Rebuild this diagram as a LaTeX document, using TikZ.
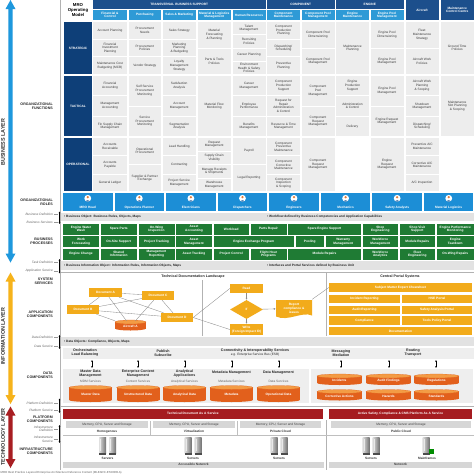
\documentclass[tikz,border=0pt]{standalone}
\usepackage{fontspec}
\setmainfont{Liberation Sans}
\usetikzlibrary{shapes.geometric,arrows.meta,calc}
\definecolor{hdrblue}{HTML}{1C4F8C}
\definecolor{subblue}{HTML}{2E9AD6}
\definecolor{navy}{HTML}{0E3F78}
\definecolor{roleblue}{HTML}{1C8ED6}
\definecolor{cellgray}{HTML}{EDEDED}
\definecolor{txtgray}{HTML}{3A3A3A}
\definecolor{bizgreen}{HTML}{1F7B34}
\definecolor{appor}{HTML}{F2AB1B}
\definecolor{cylor}{HTML}{E2601C}
\definecolor{cyltop}{HTML}{F39C45}
\definecolor{techred}{HTML}{A51C20}
\definecolor{bandgray}{HTML}{E2E2E2}
\definecolor{panelgray}{HTML}{EEEEEE}
\definecolor{arrblue}{HTML}{1E98DD}
\definecolor{arryel}{HTML}{F6B31B}
\definecolor{arrred}{HTML}{A81E22}
\definecolor{headc}{HTML}{E07B39}
\definecolor{bodyc}{HTML}{3A6EA5}
\newcommand\fc{\fontsize{3.2}{3.6}\selectfont}
\newcommand\fh{\fontsize{3.6}{4.0}\selectfont}
\newcommand\fl{\fontsize{5.4}{6}\selectfont}
\newcommand\cb[7]{\pgfmathsetmacro\cbw{#5-#3}\pgfmathsetmacro\cbh{#6-#4}\node[#1,minimum width=\cbw pt,minimum height=\cbh pt] (#2) at ({(#3+#5)/2},{(#4+#6)/2}) {#7};}
\newcommand\cyl[6]{\pgfmathsetmacro\cyr{#5/2}\pgfmathsetmacro\cyh{#4-#3}%
 \fill[cylor] (#2-\cyr,#3+2) rectangle (#2+\cyr,#4-2);
 \fill[cylor] (#2,#4-2) ellipse [x radius=\cyr pt, y radius=2pt];
 \fill[cyltop,draw=cylor,line width=0.2pt] (#2,#3+2) ellipse [x radius=\cyr pt, y radius=2pt];
 \node[font=\fc\bfseries,text=white,minimum width=#5pt,minimum height=\cyh pt] (#1) at (#2,{(#3+#4)/2+1}) {#6};}
\newcommand\tower[1]{\shade[left color=black!12,right color=black!55] (#1-3.5,437) rectangle (#1+3.5,453);
 \fill[black!70] (#1-3.5,453) rectangle (#1+3.5,455);
 \fill[white,opacity=0.6] (#1-2.3,439) rectangle (#1-1.3,451);}
\tikzset{
 cell/.style={fill=cellgray,text=txtgray,font=\fc,align=center,inner sep=0pt},
 hdr/.style={fill=hdrblue,text=white,font=\fc\bfseries,align=center,inner sep=0pt},
 subh/.style={fill=subblue,text=white,font=\fc\bfseries,align=center,inner sep=0pt},
 lvl/.style={fill=navy,text=white,font=\fc\bfseries,align=center,inner sep=0pt},
 rolebox/.style={fill=roleblue,inner sep=0pt},
 proc/.style={fill=bizgreen,text=white,font=\fc\bfseries,align=center,inner sep=0pt},
 app/.style={fill=appor,text=white,font=\fc\bfseries,align=center,inner sep=0pt},
 plat/.style={fill=techred,text=white,font=\fc\bfseries,align=center,inner sep=0pt},
 graybar/.style={fill=black!16,text=black!75,font=\fc,align=center,inner sep=0pt},
 lab/.style={font=\fh\bfseries,align=right,anchor=east,text=black!85,inner sep=0pt},
 sublab/.style={font=\fc\itshape,align=right,anchor=east,text=black!60,inner sep=0pt},
 bandtxt/.style={font=\fc\bfseries,anchor=west,text=black!85,inner sep=0pt},
 docline/.style={draw=black!45,line width=0.35pt},
 flowarr/.style={draw=black!45,line width=0.4pt,-{Latex[length=2pt,width=2pt]}},
 dbl/.style={draw=black,line width=0.6pt,{Latex[length=1.6pt,width=1.8pt]}-{Latex[length=1.6pt,width=1.8pt]}},
 dhead/.style={font=\fh\bfseries,align=center,text=black!85,inner sep=0pt},
 dserv/.style={font=\fc,align=center,text=black!60,inner sep=0pt},
 tiny/.style={font=\fc\bfseries,text=black!80,inner sep=0pt}
}
\begin{document}
\begin{tikzpicture}[x=1pt,y=-1pt]
\useasboundingbox (0,0) rectangle (474,475);
\fill[white] (0,0) rectangle (474,475);
% ---------- layer arrows ----------
\fill[arrblue] (10.5,0) -- (15.5,9) -- (12.7,9) -- (12.7,253.5) -- (15.5,253.5) -- (10.5,262.5) -- (5.5,253.5) -- (8.3,253.5) -- (8.3,9) -- (5.5,9) -- cycle;
\fill[arryel] (10.5,272.5) -- (15.5,281.5) -- (12.7,281.5) -- (12.7,395) -- (15.5,395) -- (10.5,404) -- (5.5,395) -- (8.3,395) -- (8.3,281.5) -- (5.5,281.5) -- cycle;
\fill[arrred] (10.5,406.5) -- (15.5,415.5) -- (12.7,415.5) -- (12.7,459) -- (15.5,459) -- (10.5,468) -- (5.5,459) -- (8.3,459) -- (8.3,415.5) -- (5.5,415.5) -- cycle;
\node[rotate=90,font=\fl\bfseries,text=black!80,inner sep=0pt] (lbiz) at (3,142) {BUSINESS LAYER};
\node[rotate=90,font=\fl\bfseries,text=black!80,inner sep=0pt] (linf) at (3,336) {INFORMATION LAYER};
\node[rotate=90,font=\fl\bfseries,text=black!80,inner sep=0pt] (ltec) at (3,437) {TECHNOLOGY LAYER};
% frame line
\draw[black!30,line width=0.3pt] (60.5,0) -- (60.5,470);
% ---------- left labels ----------
\node[lab] (lof) at (53,106) {ORGANIZATIONAL\\FUNCTIONS};
\node[lab] (lor) at (53,202) {ORGANIZATIONAL\\ROLES};
\node[sublab] (lbd) at (53,214.5) {Business Definition};
\node[sublab] (lbs) at (53,222.5) {Business Services};
\node[lab] (lbp) at (53,241.5) {BUSINESS\\PROCESSES};
\node[sublab] (ltd) at (53,262) {Task Definition};
\node[sublab] (las) at (53,271) {Application Service};
\node[lab] (lss) at (53,281.5) {SYSTEM\\SERVICES};
\node[lab] (lac) at (53,314.5) {APPLICATION\\COMPONENTS};
\node[sublab] (ldd) at (53,337.5) {Data Definition};
\node[sublab] (lds) at (53,346.5) {Data Service};
\node[lab] (ldc) at (53,375.5) {DATA\\COMPONENTS};
\node[sublab] (lpd) at (53,403) {Platform Definition};
\node[sublab] (lps) at (53,410.5) {Platform Service};
\node[lab] (lpc) at (53,419.5) {PLATFORM\\COMPONENTS};
\node[sublab] (lid) at (53,429) {Infrastructure\\Definition};
\node[sublab] (lis) at (53,439.5) {Infrastructure\\Service};
\node[lab] (lic) at (53,451.5) {INFRASTRUCTURE\\COMPONENTS};
\foreach \yy in {214.5,222.5,262,271,337.5,346.5,403,410.5,429,439.5} {\draw[black!40,line width=0.3pt] (54,\yy) -- (58,\yy);}
\coordinate (a1t) at (59.5,211.5); \coordinate (a1b) at (59.5,224);
\coordinate (a2t) at (59.5,259); \coordinate (a2b) at (59.5,273.5);
\coordinate (a3t) at (59.5,335); \coordinate (a3b) at (59.5,349);
\coordinate (a4t) at (59.5,398.5); \coordinate (a4b) at (59.5,413);
\coordinate (a5t) at (59.5,425); \coordinate (a5b) at (59.5,443);
\draw[dbl] (a1t) -- (a1b); \draw[dbl] (a2t) -- (a2b); \draw[dbl] (a3t) -- (a3b); \draw[dbl] (a4t) -- (a4b); \draw[dbl] (a5t) -- (a5b);
% ---------- header ----------
\node[font=\fontsize{4.3}{4.7}\selectfont\bfseries,align=center,inner sep=0pt] (mro) at (78,10) {MRO\\Operating\\Model};
\cb{hdr}{tbs}{93}{0}{265.5}{9}{TRANSVERSAL BUSINESS SUPPORT}
\cb{hdr}{cmph}{267}{0}{334.5}{9}{COMPONENT}
\cb{hdr}{engh}{336}{0}{403.5}{9}{ENGINE}
\cb{hdr}{acft}{405.5}{0}{438.5}{20}{Aircraft}
\cb{hdr}{mcc}{440.5}{0}{474}{20}{Maintenance\\Control Centre}
\cb{subh}{h1}{93}{10}{127}{20}{Financial \&\\Control}
\cb{subh}{h2}{128.5}{10}{161}{20}{Purchasing}
\cb{subh}{h3}{162.5}{10}{196}{20}{Sales \& Marketing}
\cb{subh}{h4}{197.5}{10}{231}{20}{Material \& Logistics\\Management}
\cb{subh}{h5}{232.5}{10}{265.5}{20}{Human Resources}
\cb{subh}{h6}{267}{10}{300}{20}{Component\\Maintenance}
\cb{subh}{h7}{301.5}{10}{334.5}{20}{Component Pool\\Management}
\cb{subh}{h8}{336}{10}{369}{20}{Engine\\Maintenance}
\cb{subh}{h9}{370.5}{10}{403.5}{20}{Engine Pool\\Management}
% levels
\cb{lvl}{strat}{64}{22}{92}{74}{STRATEGIC}
\cb{lvl}{tact}{64}{76}{92}{136}{TACTICAL}
\cb{lvl}{oper}{64}{138}{92}{191}{OPERATIONAL}
% column 1
\cb{cell}{c1a}{93}{22}{127}{38.7}{Account Planning}
\cb{cell}{c1b}{93}{39.7}{127}{56.3}{Financial\\Investment\\Planning}
\cb{cell}{c1c}{93}{57.3}{127}{74}{Maintenance Cost\\Budgeting (MCB)}
\cb{cell}{c1d}{93}{76}{127}{95.3}{Financial\\Accounting}
\cb{cell}{c1e}{93}{96.3}{127}{115.7}{Management\\Accounting}
\cb{cell}{c1f}{93}{116.7}{127}{136}{Fin Supply Chain\\Management}
\cb{cell}{c1g}{93}{138}{127}{155.3}{Accounts\\Receivable}
\cb{cell}{c1h}{93}{156.3}{127}{173.7}{Accounts\\Payable}
\cb{cell}{c1i}{93}{174.7}{127}{191}{General Ledger}
% column 2
\cb{cell}{c2a}{128.5}{22}{161}{38.7}{Procurement\\Needs}
\cb{cell}{c2b}{128.5}{39.7}{161}{56.3}{Procurement\\Policies}
\cb{cell}{c2c}{128.5}{57.3}{161}{74}{Vendor Strategy}
\cb{cell}{c2d}{128.5}{76}{161}{105.5}{Self Service\\Procurement\\Monitoring}
\cb{cell}{c2e}{128.5}{106.5}{161}{136}{Service\\Procurement\\Monitoring}
\cb{cell}{c2f}{128.5}{138}{161}{164}{Operational\\Procurement}
\cb{cell}{c2g}{128.5}{165}{161}{191}{Supplier \& Partner\\Exchange}
% column 3
\cb{cell}{c3a}{162.5}{22}{196}{38.7}{Sales Strategy}
\cb{cell}{c3b}{162.5}{39.7}{196}{56.3}{Marketing\\Planning\\\& Budgeting}
\cb{cell}{c3c}{162.5}{57.3}{196}{74}{Loyalty\\Management\\Strategy}
\cb{cell}{c3d}{162.5}{76}{196}{95.3}{Satisfaction\\Analysis}
\cb{cell}{c3e}{162.5}{96.3}{196}{115.7}{Account\\Management}
\cb{cell}{c3f}{162.5}{116.7}{196}{136}{Segmentation\\Analysis}
\cb{cell}{c3g}{162.5}{138}{196}{155.3}{Lead Handling}
\cb{cell}{c3h}{162.5}{156.3}{196}{173.7}{Contracting}
\cb{cell}{c3i}{162.5}{174.7}{196}{191}{Project Service\\Management}
% column 4
\cb{cell}{c4a}{197.5}{22}{231}{47.5}{Material\\Forecasting\\\& Planning}
\cb{cell}{c4b}{197.5}{48.5}{231}{74}{Parts \& Tools\\Policies}
\cb{cell}{c4c}{197.5}{76}{231}{136}{Material Flow\\Monitoring}
\cb{cell}{c4d}{197.5}{138}{231}{150.5}{Request\\Management}
\cb{cell}{c4e}{197.5}{151.5}{231}{164}{Supply Chain\\Visibility}
\cb{cell}{c4f}{197.5}{165}{231}{177.5}{Manage Receipts\\\& Shipments}
\cb{cell}{c4g}{197.5}{178.5}{231}{191}{Warehouse\\Management}
% column 5
\cb{cell}{c5a}{232.5}{22}{265.5}{34.25}{Talent\\Management}
\cb{cell}{c5b}{232.5}{35.25}{265.5}{47.5}{Recruiting\\Policies}
\cb{cell}{c5c}{232.5}{48.5}{265.5}{60.75}{Career Planning}
\cb{cell}{c5d}{232.5}{61.75}{265.5}{74}{Environment\\Health \& Safety\\Policies}
\cb{cell}{c5e}{232.5}{76}{265.5}{95.3}{Career\\Management}
\cb{cell}{c5f}{232.5}{96.3}{265.5}{115.7}{Employee\\Performance}
\cb{cell}{c5g}{232.5}{116.7}{265.5}{136}{Benefits\\Management}
\cb{cell}{c5h}{232.5}{138}{265.5}{164}{Payroll}
\cb{cell}{c5i}{232.5}{165}{265.5}{191}{Legal Reporting}
% column 6
\cb{cell}{c6a}{267}{22}{300}{38.7}{Component\\Production\\Planning}
\cb{cell}{c6b}{267}{39.7}{300}{56.3}{Dispatching/\\Scheduling}
\cb{cell}{c6c}{267}{57.3}{300}{74}{Preventive\\Planning}
\cb{cell}{c6d}{267}{76}{300}{95.3}{Component\\Production\\Support}
\cb{cell}{c6e}{267}{96.3}{300}{115.7}{Request for\\Repair\\Administration\\\& Control}
\cb{cell}{c6f}{267}{116.7}{300}{136}{Resource \& Time\\Management}
\cb{cell}{c6g}{267}{138}{300}{155.3}{Component\\Preventive\\Maintenance}
\cb{cell}{c6h}{267}{156.3}{300}{173.7}{Component\\Corrective\\Maintenance}
\cb{cell}{c6i}{267}{174.7}{300}{191}{Component\\Inspection\\\& Scoping}
% column 7
\cb{cell}{c7a}{301.5}{22}{334.5}{47.5}{Component Pool\\Dimensioning}
\cb{cell}{c7b}{301.5}{48.5}{334.5}{74}{Component Pool\\Management}
\cb{cell}{c7c}{301.5}{76}{334.5}{105.5}{Component\\Pool\\Management}
\cb{cell}{c7d}{301.5}{106.5}{334.5}{136}{Component\\Request\\Management}
\cb{cell}{c7e}{301.5}{138}{334.5}{191}{Component\\Request\\Management}
% column 8
\cb{cell}{c8a}{336}{22}{369}{74}{Maintenance\\Planning}
\cb{cell}{c8b}{336}{76}{369}{95.3}{Engine\\Production\\Support}
\cb{cell}{c8c}{336}{96.3}{369}{115.7}{Administration\\\& Control}
\cb{cell}{c8d}{336}{116.7}{369}{136}{Delivery}
% column 9
\cb{cell}{c9a}{370.5}{22}{403.5}{47.5}{Engine Pool\\Dimensioning}
\cb{cell}{c9b}{370.5}{48.5}{403.5}{74}{Engine Pool\\Management}
\cb{cell}{c9c}{370.5}{76}{403.5}{105.5}{Engine Pool\\Management}
\cb{cell}{c9d}{370.5}{106.5}{403.5}{136}{Engine Request\\Management}
\cb{cell}{c9e}{370.5}{138}{403.5}{191}{Engine\\Request\\Management}
% column 10
\cb{cell}{c10a}{405.5}{22}{438.5}{47.5}{Fleet\\Maintenance\\Strategy}
\cb{cell}{c10b}{405.5}{48.5}{438.5}{74}{Aircraft Work\\Policies}
\cb{cell}{c10c}{405.5}{76}{438.5}{95.3}{Aircraft Work\\Planning\\\& Scoping}
\cb{cell}{c10d}{405.5}{96.3}{438.5}{115.7}{Shutdown\\Management}
\cb{cell}{c10e}{405.5}{116.7}{438.5}{136}{Dispatching/\\Scheduling}
\cb{cell}{c10f}{405.5}{138}{438.5}{155.3}{Preventive A/C\\Maintenance}
\cb{cell}{c10g}{405.5}{156.3}{438.5}{173.7}{Corrective A/C\\Maintenance}
\cb{cell}{c10h}{405.5}{174.7}{438.5}{191}{A/C Inspection}
% column 11
\cb{cell}{c11a}{440.5}{22}{474}{74}{Ground Time\\Policies}
\cb{cell}{c11b}{440.5}{76}{474}{136}{Maintenance\\Slot Planning\\\& Scoping}
% ---------- roles ----------
\foreach \t [count=\i from 0] in {MRO Head,Operations Planner,Electricians,Dispatchers,Engineers,Mechanics,Safety Analysts,Material Logistics} {
 \pgfmathsetmacro\rx{63+\i*51.57}
 \pgfmathsetmacro\cx{\rx+24.75}
 \cb{rolebox}{role\i}{\rx}{193}{\rx+49.5}{211}{}
 \fill[white] (\cx,198.3) circle (3.4pt);
 \begin{scope}
  \clip (\cx,198.3) circle (3.4pt);
  \fill[bodyc] (\cx,202.2) ellipse [x radius=2.3pt, y radius=2pt];
 \end{scope}
 \fill[headc] (\cx,197.2) circle (1.25pt);
 \node[font=\fc\bfseries,text=white,inner sep=0pt] (rt\i) at (\cx,207.3) {\t};
}
% ---------- business definition band ----------
\fill[bandgray] (61,212.5) rectangle (474,221);
\node[bandtxt] (bd1) at (64,216.8) {• Business Object: Business Rules, Objects, Maps};
\node[bandtxt] (bd2) at (267,216.8) {• Workflow defined by Business Competencies and Application Capabilities};
% ---------- business processes ----------
\cb{proc}{p1a}{63}{223.5}{99}{234.5}{Engine Water\\Wash}
\cb{proc}{p1b}{100.5}{223.5}{137}{234.5}{Spare Parts}
\cb{proc}{p1c}{138.5}{223.5}{174.5}{234.5}{On-Wing\\Inspection}
\cb{proc}{p1d}{176}{223.5}{212}{234.5}{Asset\\Accounting}
\cb{proc}{p1e}{213.5}{223.5}{249}{234.5}{Workload}
\cb{proc}{p1f}{250.5}{223.5}{286.5}{234.5}{Parts Repair}
\cb{proc}{p1g}{288}{223.5}{361}{234.5}{Spare Engine Support}
\cb{proc}{p1h}{362.5}{223.5}{398}{234.5}{Shop\\Engineering}
\cb{proc}{p1i}{399.5}{223.5}{435}{234.5}{Shop Visit\\Support}
\cb{proc}{p1j}{436.5}{223.5}{474}{234.5}{Engine Performance\\Monitoring}
\cb{proc}{p2a}{63}{236}{99}{247}{Work\\Forecasting}
\cb{proc}{p2b}{100.5}{236}{137}{247}{On-Site Support}
\cb{proc}{p2c}{138.5}{236}{174.5}{247}{Project Tracking}
\cb{proc}{p2d}{176}{236}{212}{247}{Asset\\Management}
\cb{proc}{p2e}{213.5}{236}{294}{247}{Engine Exchange Program}
\cb{proc}{p2f}{295.5}{236}{324}{247}{Pooling}
\cb{proc}{p2g}{325.5}{236}{361}{247}{Warranty\\Management}
\cb{proc}{p2h}{362.5}{236}{398}{247}{Workforce\\Management}
\cb{proc}{p2i}{399.5}{236}{435}{247}{Module Repairs}
\cb{proc}{p2j}{436.5}{236}{474}{247}{Engine\\Teardown}
\cb{proc}{p3a}{63}{248.5}{99}{259.5}{Engine Change}
\cb{proc}{p3b}{100.5}{248.5}{137}{259.5}{Shared\\Information}
\cb{proc}{p3c}{138.5}{248.5}{174.5}{259.5}{Management\\Reporting}
\cb{proc}{p3d}{176}{248.5}{212}{259.5}{Asset Tracking}
\cb{proc}{p3e}{213.5}{248.5}{249}{259.5}{Project Control}
\cb{proc}{p3f}{250.5}{248.5}{286.5}{259.5}{Flight Hour\\Programs}
\cb{proc}{p3g}{288}{248.5}{361}{259.5}{Module Repairs}
\cb{proc}{p3h}{362.5}{248.5}{398}{259.5}{Workforce\\Analytics}
\cb{proc}{p3i}{399.5}{248.5}{435}{259.5}{Fleet\\Engineering}
\cb{proc}{p3j}{436.5}{248.5}{474}{259.5}{On-Wing Repairs}
% ---------- task definition band ----------
\fill[bandgray] (61,261) rectangle (474,269.5);
\node[bandtxt] (td1) at (64,265.3) {• Business Information Object: Information Rules, Information Objects, Maps};
\node[bandtxt] (td2) at (267,265.3) {• Interfaces and Portal Services defined by Business Unit};
% ---------- system services / application components ----------
\draw[black!30,line width=0.3pt] (61,272) -- (474,272);
\draw[black!30,line width=0.3pt] (202.5,280) -- (202.5,336);
\draw[black!30,line width=0.3pt] (326,272) -- (326,336);
\node[font=\fh\bfseries,text=black!85,inner sep=0pt] (tdl) at (193,276.5) {Technical Documentation Landscape};
\node[font=\fh\bfseries,text=black!85,inner sep=0pt] (cps) at (400,276.5) {Central Portal Systems};
\cb{app}{docA}{89}{288}{122}{297}{Document A}
\cb{app}{docC}{142}{291}{174}{300}{Document C}
\cb{app}{docB}{67}{305}{99}{314}{Document B}
\cb{app}{docD}{161}{313}{193}{322}{Document D}
\cyl{airA}{130.5}{320}{330.5}{31}{Aircraft A}
\cb{app}{read}{230}{284}{263}{293}{Read}
\node[diamond,fill=appor,text=white,font=\fc\bfseries,minimum width=33pt,minimum height=19pt,inner sep=0pt] (ifd) at (246.5,309.5) {If};
\cb{app}{write}{230}{324}{263}{335}{Write\\(Foreign Impact ID)}
\fill[appor] (276,300) -- (312,300) -- (312,315.5) .. controls (302,311) and (288,322) .. (276,316.5) -- cycle;
\node[font=\fc\bfseries,text=white,align=center,inner sep=0pt,minimum width=36pt,minimum height=18pt] (rep) at (294,308.5) {Report\\compliance \&\\issues};
\draw[docline] (docA) -- (docB);
\draw[docline] (docA) -- (docC);
\draw[docline] (docA) -- (docD);
\draw[docline] (docA) -- (airA);
\draw[docline] (docB) -- (docC);
\draw[docline] (docB) -- (docD);
\draw[docline] (docB) -- (airA);
\draw[docline] (docC) -- (airA);
\draw[docline] (docC) -- (docD);
\draw[docline] (docD.east) -- (read.west);
\draw[docline] (docD.east) -- (write.west);
\draw[flowarr] (read) -- (ifd);
\draw[flowarr] (ifd) -- (rep);
\draw[flowarr] (ifd) -- (write);
\cb{app}{sme}{329}{283}{472}{292}{Subject Matter Expert Cheatsheet}
\cb{app}{inc}{329}{294.5}{400}{302.5}{Incident Reporting}
\cb{app}{hse}{402}{294.5}{472}{302.5}{HSE Portal}
\cb{app}{aud}{329}{305.5}{400}{313.5}{Audit Reporting}
\cb{app}{saf}{402}{305.5}{472}{313.5}{Safety Analysis Portal}
\cb{app}{cmpl}{329}{316}{400}{324.5}{Compliance}
\cb{app}{tpp}{402}{316}{472}{324.5}{Tools Policy Portal}
\cb{app}{docu}{329}{327}{472}{335}{Documentation}
\draw[docline] (rep.north east) -- (sme.west);
% ---------- data definition band ----------
\fill[bandgray] (61,337) rectangle (474,346);
\node[bandtxt] (dd1) at (64,341.5) {• Data Objects: Compliance, Objects, Maps};
\fill[panelgray] (63,347.5) rectangle (474,358.5);
\node[dhead] (dh1) at (85,353) {Orchestration\\Load Balancing};
\node[dhead] (dh2) at (163,353) {Publish\\Subscribe};
\node[font=\fh,align=center,inner sep=0pt,text=black!85] (dh3) at (255,353) {{\bfseries Connectivity \& Interoperability Services}\\{\fc e.g. Enterprise Service Bus (ESB)}};
\node[dhead] (dh4) at (341,353) {Messaging\\Mediation};
\node[dhead] (dh5) at (413,353) {Routing\\Transport};
\foreach \xx [count=\k] in {92,138,185,232,279,341,389,436} {
 \coordinate (dat\k) at (\xx,360); \coordinate (dab\k) at (\xx,368);
 \draw[dbl] (dat\k) -- (dab\k);
}
% ---------- data components ----------
\fill[panelgray] (63,369) rectangle (309,403);
\fill[panelgray] (311,369) rectangle (473,403);
\node[dhead] (m1) at (90.5,374) {Master Data\\Management};
\node[dserv] (s1) at (90.5,381.5) {MDM Services};
\node[dhead] (m2) at (138,374) {Enterprise Content\\Management};
\node[dserv] (s2) at (138,381.5) {Content Services};
\node[dhead] (m3) at (184.5,374) {Analytical\\Applications};
\node[dserv] (s3) at (184.5,381.5) {Analytical Services};
\node[dhead] (m4) at (231.5,373) {Metadata Management};
\node[dserv] (s4) at (231.5,381.5) {Metadata Services};
\node[dhead] (m5) at (278.5,373) {Data Management};
\node[dserv] (s5) at (278.5,381.5) {Data Services};
\cyl{cy1}{90.5}{385.5}{402}{43}{Master Data}
\cyl{cy2}{138}{385.5}{402}{43}{Unstructured Data}
\cyl{cy3}{184.5}{385.5}{402}{43}{Analytical Data}
\cyl{cy4}{231.5}{385.5}{402}{43}{Metadata}
\cyl{cy5}{278.5}{385.5}{402}{43}{Operational Data}
\cyl{cy6}{339.5}{374}{385}{45}{Incidents}
\cyl{cy7}{388.5}{374}{385}{45}{Audit Findings}
\cyl{cy8}{436.5}{374}{385}{45}{Regulations}
\cyl{cy9}{339.5}{389.5}{400.5}{45}{Corrective Actions}
\cyl{cy10}{388.5}{389.5}{400.5}{45}{Hazards}
\cyl{cy11}{436.5}{389.5}{400.5}{45}{Standards}
% ---------- platform ----------
\draw[black!30,line width=0.3pt] (61,406.5) -- (474,406.5);
\cb{plat}{tdaas}{63}{408.5}{323}{418.5}{Technical Document As A Service}
\cb{plat}{aspaas}{329}{408.5}{472}{418.5}{Active Safety, Compliance \& CMS Platform As A Service}
\cb{graybar}{mem1}{66}{421}{148}{427.5}{Memory, CPU, Server and Storage}
\cb{graybar}{mem2}{153}{421}{235}{427.5}{Memory, CPU, Server and Storage}
\cb{graybar}{mem3}{240}{421}{321}{427.5}{Memory, CPU, Server and Storage}
\cb{graybar}{mem4}{331}{421}{471}{427.5}{Memory, CPU, Server and Storage}
\node[tiny] (hom) at (107,431.5) {Homogenous};
\node[tiny] (vir) at (194,431.5) {Virtualization};
\node[tiny] (prc) at (280.5,431.5) {Private Cloud};
\node[tiny] (puc) at (401,431.5) {Public Cloud};
\draw[black!25,line width=0.3pt] (150.5,421) -- (150.5,435);
\draw[black!25,line width=0.3pt] (237.5,421) -- (237.5,435);
\draw[black!30,line width=0.3pt] (326,420) -- (326,470);
\draw[black!25,line width=0.3pt] (63,435) -- (474,435);
% ---------- infrastructure ----------
\tower{102.5}\tower{112.5}
\tower{188}\tower{198}
\tower{274}\tower{284}
\tower{366}\tower{376}
\tower{426}
\fill[green!55!black] (428.5,449) rectangle (434,454);
\node[tiny] (sv1) at (107.5,458.5) {Servers};
\node[tiny] (sv2) at (193,458.5) {Servers};
\node[tiny] (sv3) at (279,458.5) {Servers};
\node[tiny] (sv4) at (371,458.5) {Servers};
\node[tiny] (mfr) at (427,458.5) {Mainframes};
\cb{graybar}{net1}{63}{461.5}{324}{467.5}{\bfseries Accessible Network}
\cb{graybar}{net2}{329}{461.5}{472}{467.5}{\bfseries Network}
% ---------- footer ----------
\node[font=\fontsize{2.9}{3.2}\selectfont,text=black!60,anchor=west,inner sep=0pt] (foot) at (0.5,472.3) {MRO Best Practice Layered Enterprise Architecture Reference Content (MLEARC-ETA0001A)};
\end{tikzpicture}
\end{document}
